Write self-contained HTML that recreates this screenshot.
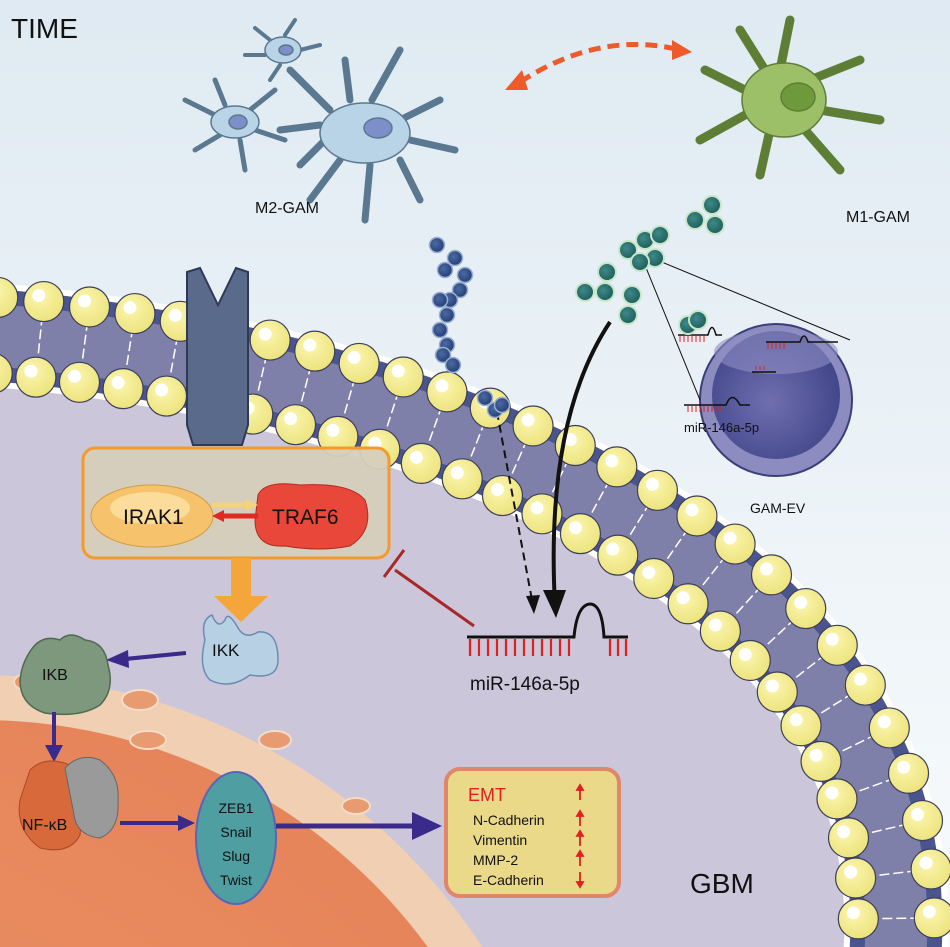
<!DOCTYPE html>
<html><head><meta charset="utf-8"><style>
html,body{margin:0;padding:0;background:#fff;overflow:hidden}
svg{display:block}
text{font-family:"Liberation Sans",Arial,sans-serif}
</style></head><body>
<svg id="s" width="950" height="947" viewBox="0 0 950 947" xmlns="http://www.w3.org/2000/svg">
<defs>
<linearGradient id="bg" x1="0" y1="0" x2="0" y2="1"><stop offset="0" stop-color="#dfeaf2"/><stop offset="1" stop-color="#f8fbfc"/></linearGradient>
<radialGradient id="bead" cx="0.4" cy="0.35" r="0.7"><stop offset="0" stop-color="#fbf6b0"/><stop offset="1" stop-color="#ece27a"/></radialGradient>
<radialGradient id="nuc" cx="0.2" cy="0.9" r="1"><stop offset="0" stop-color="#f0a070"/><stop offset="1" stop-color="#e6845a"/></radialGradient>
<radialGradient id="ev" cx="0.45" cy="0.55" r="0.6"><stop offset="0" stop-color="#6f6fb0"/><stop offset="1" stop-color="#3f4488"/></radialGradient>
<radialGradient id="ex" cx="0.4" cy="0.4" r="0.6"><stop offset="0" stop-color="#3e8a88"/><stop offset="1" stop-color="#1f5e5e"/></radialGradient>
<radialGradient id="ex2" cx="0.4" cy="0.4" r="0.6"><stop offset="0" stop-color="#4b6aa0"/><stop offset="1" stop-color="#26407a"/></radialGradient>
</defs>
<rect width="950" height="947" fill="url(#bg)"/>
<path d="M -10 335 C 280 355, 930 500, 895 960 L -10 960 Z" fill="#cbc6da"/>
<path id="mid" d="M -10 335 C 280 355, 930 500, 895 960" fill="none" stroke="#fff" stroke-width="104"/>
<path d="M -10 335 C 280 355, 930 500, 895 960" fill="none" stroke="#4a548e" stroke-width="92"/>
<path d="M -10 335 C 280 355, 930 500, 895 960" fill="none" stroke="#7f80aa" stroke-width="62"/>
<g id="beads"></g>

<circle cx="-20" cy="1275" r="600" fill="#f0cfb2"/>
<circle cx="-20" cy="1275" r="555" fill="url(#nuc)"/>
<g fill="#e89a70" stroke="#f4dcc8" stroke-width="2">
<ellipse cx="30" cy="682" rx="16" ry="9"/><ellipse cx="140" cy="700" rx="18" ry="10"/><ellipse cx="275" cy="740" rx="16" ry="9"/><ellipse cx="148" cy="740" rx="18" ry="9"/><ellipse cx="356" cy="806" rx="14" ry="8"/>
</g>

<path d="M187 272 L200 268 L218 305 L236 268 L248 272 L248 425 L242 445 L193 445 L187 425 Z" fill="#5a6a8a" stroke="#2e3a55" stroke-width="2"/>

<rect x="83" y="448" width="306" height="110" rx="12" fill="#d6cfbb" fill-opacity="0.95" stroke="#f39a2a" stroke-width="3"/>
<ellipse cx="152" cy="516" rx="61" ry="31" fill="#f6c36c" stroke="#d49a40"/>
<ellipse cx="150" cy="508" rx="40" ry="16" fill="#fbdc9a"/>
<path d="M258 495 Q265 480 300 485 Q350 482 365 500 Q375 530 350 546 Q320 552 285 546 Q255 548 255 520 Z" fill="#e8473a" stroke="#b02a20"/>
<path d="M212 505 L248 505" stroke="#f4d37c" stroke-width="5"/><path d="M246 499 L258 505 L246 511 Z" fill="#f4d37c"/>
<path d="M258 516 L222 516" stroke="#e02a20" stroke-width="5"/><path d="M224 510 L212 516 L224 522 Z" fill="#e02a20"/>
<text x="123" y="524" font-size="21" fill="#111">IRAK1</text>
<text x="272" y="524" font-size="21" fill="#111">TRAF6</text>
<rect x="231" y="558" width="20" height="40" fill="#f4a63a"/>
<path d="M214 596 L268 596 L241 622 Z" fill="#f4a63a"/>
<path d="M205 640 Q200 620 212 615 Q218 630 225 620 Q228 610 238 628 Q245 640 258 632 Q278 630 278 660 Q278 680 250 675 Q230 690 210 680 Q198 668 205 640 Z" fill="#b8d0e4" stroke="#6a8cb0" stroke-width="1.5"/>
<text x="212" y="656" font-size="17" fill="#111">IKK</text>
<path d="M186 653 L125 659" stroke="#3a2a8a" stroke-width="4"/><path d="M128 650 L106 660 L129 668 Z" fill="#3a2a8a"/>
<path d="M35 645 Q45 635 60 640 Q70 630 85 640 Q105 642 108 665 Q115 690 100 705 Q80 718 45 713 Q20 705 20 680 Q22 660 35 645 Z" fill="#7e987e" stroke="#4f6a4f" stroke-width="1.5"/>
<text x="42" y="680" font-size="16" fill="#111">IKB</text>
<path d="M54 712 L54 748" stroke="#3a2a8a" stroke-width="4"/><path d="M45 745 L54 762 L63 745 Z" fill="#3a2a8a"/>
<path d="M30 770 Q45 755 70 765 Q85 790 80 835 Q70 855 40 848 Q15 830 20 800 Z" fill="#d8693a" stroke="#a8482a"/>
<path d="M65 768 Q80 752 100 760 Q120 775 118 800 Q120 830 100 838 Q80 836 75 820 Z" fill="#9a9a9a" stroke="#666"/>
<text x="22" y="830" font-size="16" fill="#111">NF-κB</text>
<path d="M120 823 L180 823" stroke="#3a2a8a" stroke-width="4"/><path d="M178 815 L195 823 L178 831 Z" fill="#3a2a8a"/>
<ellipse cx="236" cy="838" rx="40" ry="66" fill="#4e9ea2" stroke="#5a64b8" stroke-width="2"/>
<g font-size="14" fill="#111" text-anchor="middle"><text x="236" y="813">ZEB1</text><text x="236" y="837">Snail</text><text x="236" y="861">Slug</text><text x="236" y="885">Twist</text></g>
<path d="M276 826 L425 826" stroke="#3a2a8a" stroke-width="5"/><path d="M412 812 L442 826 L412 840 Z" fill="#3a2a8a"/>
<rect x="446" y="769" width="173" height="127" rx="14" fill="#ebd98a" stroke="#e0866a" stroke-width="4"/>
<text x="468" y="801" font-size="18" fill="#e02020">EMT</text>
<g font-size="14" fill="#111"><text x="473" y="825">N-Cadherin</text><text x="473" y="845">Vimentin</text><text x="473" y="865">MMP-2</text><text x="473" y="885">E-Cadherin</text></g>
<g stroke="#e02020" stroke-width="1.8" fill="#e02020">
<line x1="580" y1="800" x2="580" y2="787"/><path d="M577 790 L580 785 L583 790Z"/>
<line x1="580" y1="826" x2="580" y2="813"/><path d="M577 816 L580 811 L583 816Z"/>
<line x1="580" y1="846" x2="580" y2="833"/><path d="M577 836 L580 831 L583 836Z"/>
<line x1="580" y1="866" x2="580" y2="853"/><path d="M577 856 L580 851 L583 856Z"/>
<line x1="580" y1="872" x2="580" y2="885"/><path d="M577 882 L580 887 L583 882Z"/>
</g>
<path d="M474 626 L395 570" stroke="#a82828" stroke-width="3"/><path d="M384 577 L404 550" stroke="#a82828" stroke-width="3"/>
<path d="M467 637 L574 637 Q577 605 590 604 Q602 604 604 637 L628 637" fill="none" stroke="#111" stroke-width="3"/>
<g stroke="#e02020" stroke-width="2.2" id="ticks"></g>
<text x="470" y="690" font-size="19" fill="#111">miR-146a-5p</text>
<path d="M610 322 Q545 420 555 605" fill="none" stroke="#111" stroke-width="4"/>
<path d="M543 590 L556 618 L566 590 Z" fill="#111"/>
<path d="M497 412 L532 600" fill="none" stroke="#111" stroke-width="2" stroke-dasharray="8,5"/>
<path d="M526 596 L534 614 L540 595 Z" fill="#111"/>

<circle cx="776" cy="400" r="76" fill="#8c8cc0" stroke="#3a3f7a" stroke-width="2"/>
<circle cx="776" cy="395" r="64" fill="url(#ev)"/>
<ellipse cx="776" cy="352" rx="62" ry="22" fill="#9090c4" opacity="0.6"/>
<line x1="640" y1="253" x2="700" y2="400" stroke="#111"/>
<line x1="640" y1="253" x2="850" y2="340" stroke="#111"/>
<g fill="none" stroke="#111" stroke-width="1.5">
<path d="M678 335 L708 335 Q712 320 716 335 L722 335"/>
<path d="M766 342 L800 342 Q804 330 808 342 L838 342"/>
<path d="M752 372 L776 372"/>
<path d="M684 405 L726 405 Q732 390 740 405 L750 405"/>
</g>
<g stroke="#e02020" stroke-width="1">
<path d="M680 336v6M684 336v6M688 336v6M692 336v6M696 336v6M700 336v6M704 336v6M768 343v6M772 343v6M776 343v6M780 343v6M784 343v6M688 406v6M692 406v6M696 406v6M700 406v6M704 406v6M708 406v6M712 406v6M716 406v6M720 406v6"/>
<path d="M756 370v-4M760 370v-4M764 370v-4"/>
</g>
<text x="684" y="432" font-size="13" fill="#111">miR-146a-5p</text>
<text x="750" y="513" font-size="14" fill="#111">GAM-EV</text>

<g id="exo"></g>

<g fill="#b8d4e6" stroke="#5a7890" stroke-width="1.5">
<path d="M330 110 L290 70 M350 100 L345 60 M372 100 L400 50 M400 120 L440 100 M410 140 L455 150 M400 160 L420 200 M370 165 L365 220 M340 160 L310 200 M325 140 L300 165 M320 125 L280 130" stroke-width="7" stroke-linecap="round"/>
<ellipse cx="365" cy="133" rx="45" ry="30"/>
<ellipse cx="378" cy="128" rx="14" ry="10" fill="#7d8ec8"/>
<path d="M215 115 L185 100 M225 105 L215 80 M250 110 L275 90 M255 130 L285 140 M240 140 L245 170 M220 135 L195 150" stroke-width="5" stroke-linecap="round"/>
<ellipse cx="235" cy="122" rx="24" ry="16"/>
<ellipse cx="238" cy="122" rx="9" ry="7" fill="#7d8ec8"/>
<path d="M270 40 L255 28 M285 35 L295 20 M300 50 L320 45 M280 65 L270 80 M265 55 L245 55" stroke-width="4" stroke-linecap="round"/>
<ellipse cx="283" cy="50" rx="18" ry="13"/>
<ellipse cx="286" cy="50" rx="7" ry="5" fill="#7d8ec8"/>
</g>
<text x="255" y="213" font-size="16" fill="#111">M2-GAM</text>
<g fill="#9cc068" stroke="#5e7e36" stroke-width="1.5">
<path d="M780 70 L790 20 M810 80 L860 60 M820 110 L880 120 M805 130 L840 170 M770 130 L760 175 M745 115 L700 140 M745 90 L705 70 M765 70 L740 30" stroke-width="9" stroke-linecap="round"/>
<ellipse cx="784" cy="100" rx="42" ry="37"/>
<ellipse cx="798" cy="97" rx="17" ry="14" fill="#6f9a3c"/>
</g>
<text x="846" y="222" font-size="16" fill="#111">M1-GAM</text>
<path d="M520 82 Q600 30 680 50" fill="none" stroke="#ee5a2a" stroke-width="5" stroke-dasharray="12,7"/>
<path d="M505 90 L522 70 L528 90 Z" fill="#ee5a2a"/>
<path d="M692 52 L672 40 L672 60 Z" fill="#ee5a2a"/>

<text x="11" y="38" font-size="28" fill="#111">TIME</text>
<text x="690" y="893" font-size="28" fill="#111">GBM</text>
</svg>
<script>
(function(){
var NS="http://www.w3.org/2000/svg";
function el(parent,tag,attrs){var e=document.createElementNS(NS,tag);for(var k in attrs)e.setAttribute(k,attrs[k]);parent.appendChild(e);return e;}
var p=document.getElementById("mid"),L=p.getTotalLength(),g=document.getElementById("beads");
var pts=[];
for(var s=5;s<L;s+=45){
 var a=p.getPointAtLength(s),b=p.getPointAtLength(Math.min(L,s+1));
 var dx=b.x-a.x,dy=b.y-a.y,n=Math.hypot(dx,dy)||1;var nx=-dy/n,ny=dx/n;var o=38;
 el(g,"line",{x1:a.x-nx*o,y1:a.y-ny*o,x2:a.x+nx*o,y2:a.y+ny*o,stroke:"#fff","stroke-width":1.5,"stroke-dasharray":"10,4"});
 pts.push([a.x-nx*o,a.y-ny*o]);pts.push([a.x+nx*o,a.y+ny*o]);
}
pts.forEach(function(c){
 el(g,"circle",{cx:c[0],cy:c[1],r:20,fill:"url(#bead)",stroke:"#3b3f5a","stroke-width":1.2});
 el(g,"circle",{cx:c[0]-5,cy:c[1]-6,r:6.5,fill:"#fff"});
});
var tk=document.getElementById("ticks");
var xs=[];for(var i=0;i<12;i++)xs.push(470+i*9);xs.push(610,618,626);
xs.forEach(function(x){el(tk,"line",{x1:x,y1:639,x2:x,y2:656});});
var ex=document.getElementById("exo");
var green=[[607,272],[628,250],[645,240],[660,235],[655,258],[640,262],[585,292],[605,292],[632,295],[628,315],[712,205],[695,220],[715,225],[688,325],[698,320]];
green.forEach(function(c){el(ex,"circle",{cx:c[0],cy:c[1],r:9,fill:"url(#ex)",stroke:"#c8e6c8","stroke-width":2});});
var blue=[[437,245],[455,258],[445,270],[465,275],[460,290],[450,300],[440,300],[447,315],[440,330],[447,345],[443,355],[453,365],[485,398],[495,410],[502,405]];
blue.forEach(function(c){el(ex,"circle",{cx:c[0],cy:c[1],r:7.5,fill:"url(#ex2)",stroke:"#9ab0d0","stroke-width":1.5});});
})();
</script>
</body></html>
